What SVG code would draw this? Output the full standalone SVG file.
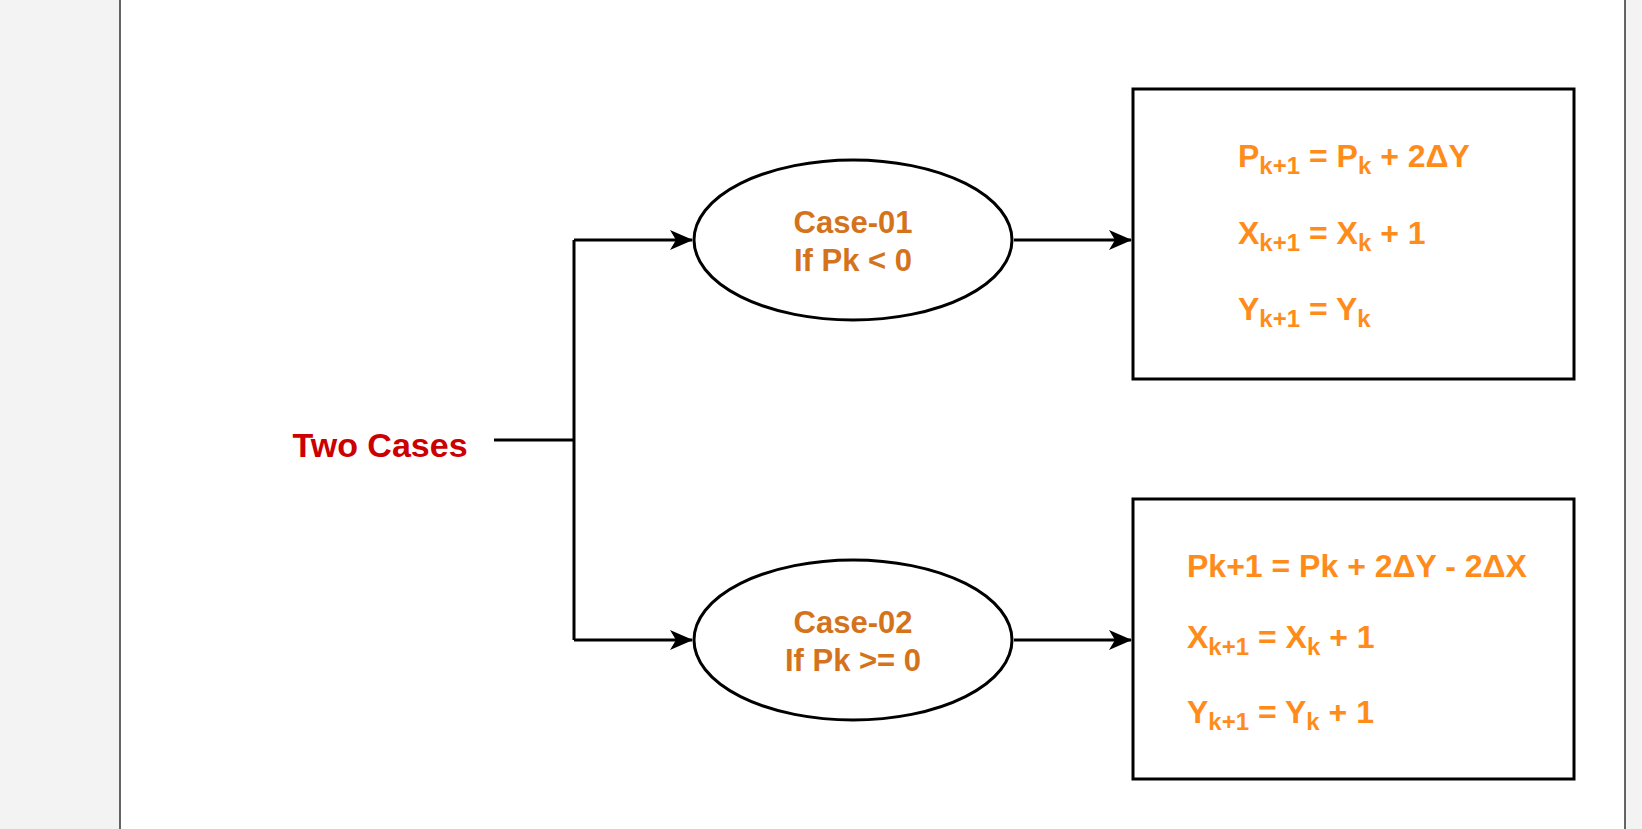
<svg xmlns="http://www.w3.org/2000/svg" width="1642" height="829" viewBox="0 0 1642 829">
<style>
.s{stroke:#000;stroke-width:3;fill:#fff}
.c{stroke:#000;stroke-width:3;fill:none}
.t{font-family:"Liberation Sans",Arial,sans-serif;font-weight:bold}
.o{fill:#ff8c1a;font-size:32px}
.e{fill:#d4731c;font-size:31px;text-anchor:middle}
.sub{font-size:24px}
</style>
<defs><marker id="a" markerWidth="24" markerHeight="22" refX="22" refY="11" orient="auto" markerUnits="userSpaceOnUse"><path d="M0,1 L23,11 L0,21 L6,11 Z" fill="#000"/></marker></defs>
<rect x="0" y="0" width="1642" height="829" fill="#f3f3f3"/>
<rect x="120" y="-2" width="1505" height="840" fill="#fff" stroke="#333" stroke-width="1.5"/>
<g id="two-cases"><text class="t" x="380" y="457" fill="#cc0000" font-size="34" text-anchor="middle">Two Cases</text></g>
<g id="connectors">
<path class="c" d="M494,440 H574 M574,240 V640"/>
<path class="c" d="M574,240 H692" marker-end="url(#a)"/>
<path class="c" d="M574,640 H692" marker-end="url(#a)"/>
<path class="c" d="M1014,240 H1131" marker-end="url(#a)"/>
<path class="c" d="M1014,640 H1131" marker-end="url(#a)"/>
</g>
<g id="case1"><ellipse class="s" cx="853" cy="240" rx="159" ry="80"/><text class="t e" x="853" y="233">Case-01</text><text class="t e" x="853" y="271">If Pk &lt; 0</text></g>
<g id="case2"><ellipse class="s" cx="853" cy="640" rx="159" ry="80"/><text class="t e" x="853" y="633">Case-02</text><text class="t e" x="853" y="671">If Pk &gt;= 0</text></g>
<g id="box1"><rect class="s" x="1133" y="89" width="441" height="290"/>
<text class="t o" x="1238" y="167">P<tspan class="sub" dy="7">k+1</tspan><tspan dy="-7"> = P</tspan><tspan class="sub" dy="7">k</tspan><tspan dy="-7"> + 2ΔY</tspan></text>
<text class="t o" x="1238" y="244">X<tspan class="sub" dy="7">k+1</tspan><tspan dy="-7"> = X</tspan><tspan class="sub" dy="7">k</tspan><tspan dy="-7"> + 1</tspan></text>
<text class="t o" x="1238" y="320">Y<tspan class="sub" dy="7">k+1</tspan><tspan dy="-7"> = Y</tspan><tspan class="sub" dy="7">k</tspan></text></g>
<g id="box2"><rect class="s" x="1133" y="499" width="441" height="280"/>
<text class="t o" x="1187" y="577">Pk+1 = Pk + 2ΔY - 2ΔX</text>
<text class="t o" x="1187" y="648">X<tspan class="sub" dy="7">k+1</tspan><tspan dy="-7"> = X</tspan><tspan class="sub" dy="7">k</tspan><tspan dy="-7"> + 1</tspan></text>
<text class="t o" x="1187" y="723">Y<tspan class="sub" dy="7">k+1</tspan><tspan dy="-7"> = Y</tspan><tspan class="sub" dy="7">k</tspan><tspan dy="-7"> + 1</tspan></text></g>
</svg>
